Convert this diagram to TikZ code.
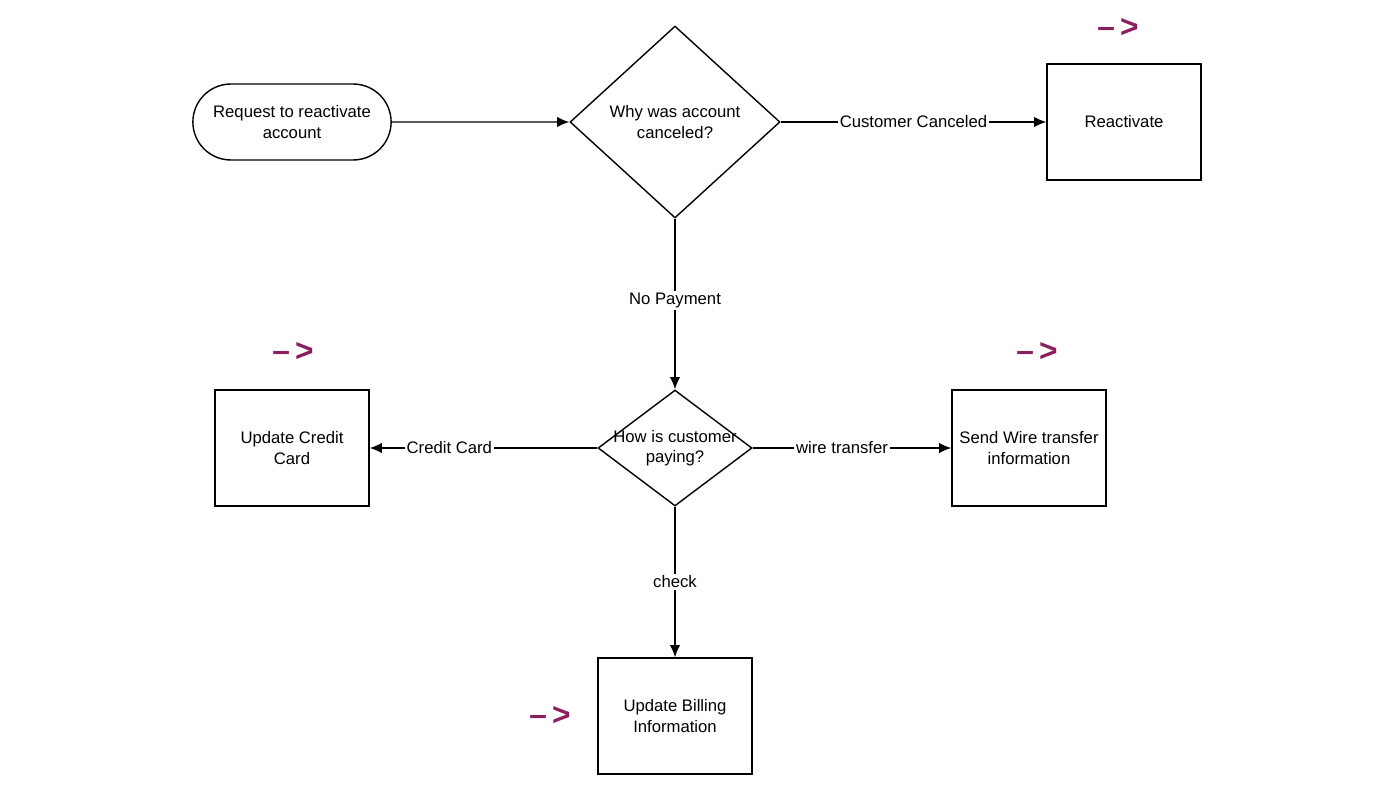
\documentclass[tikz,border=0pt]{standalone}
\usepackage{fontspec}
\setmainfont{Liberation Sans}
\usetikzlibrary{arrows.meta, positioning, shapes.geometric, shapes.misc}
\definecolor{markred}{HTML}{8B1F5E}

\begin{document}
\begin{tikzpicture}[x=0.02cm, y=-0.02cm,
    box/.style={draw, thick, rectangle, minimum width=3.08cm, minimum height=2.32cm, align=center, font=\fontsize{9.5}{11.5}\selectfont},
    decision/.style={draw, thick, diamond, inner sep=0pt},
    txt/.style={align=center, font=\fontsize{9.5}{11.5}\selectfont},
    lbl/.style={fill=white, inner sep=1pt, font=\fontsize{9.5}{11.5}\selectfont},
    hint/.style={text=markred, font=\fontsize{18}{18}\selectfont\bfseries},
    flow/.style={thick, -{Latex[length=7pt, width=6pt]}}
]
\useasboundingbox (0,0) rectangle (1400,788);

% start
\node[draw, thick, rounded rectangle, minimum width=4.2cm, minimum height=1.52cm, txt] (start) at (292,122) {Request to reactivate\\account};

% decisions
\node[decision, minimum width=4.2cm, minimum height=3.84cm] (why) at (675,122) {};
\node[txt] (whyt) at (why) {Why was account\\canceled?};
\node[decision, minimum width=3.08cm, minimum height=2.32cm] (how) at (675,448) {};
\node[txt] (howt) at (how) {How is customer\\paying?};

% outcomes
\node[box] (react) at (1124,122) {Reactivate};
\node[box] (credit) at (292,448) {Update Credit\\Card};
\node[box] (wire) at (1029,448) {Send Wire transfer\\information};
\node[box] (billing) at (675,716) {Update Billing\\Information};

% hints
\node[hint] (h1) at (1118,28) {--\,>};
\node[hint] (h2) at (293,352) {--\,>};
\node[hint] (h3) at (1037,352) {--\,>};
\node[hint] (h4) at (550,716) {--\,>};

% connectors
\draw[flow] (start) -- (why.west);
\draw[flow] (why.east) -- node[lbl] {Customer Canceled} (react);
\draw[flow] (why.south) -- node[lbl, pos=0.48] {No Payment} (how.north);
\draw[flow] (how.west) -- node[lbl, pos=0.65] {Credit Card} (credit);
\draw[flow] (how.east) -- node[lbl, pos=0.45] {wire transfer} (wire);
\draw[flow] (how.south) -- node[lbl, pos=0.5] {check} (billing);
\end{tikzpicture}
\end{document}
